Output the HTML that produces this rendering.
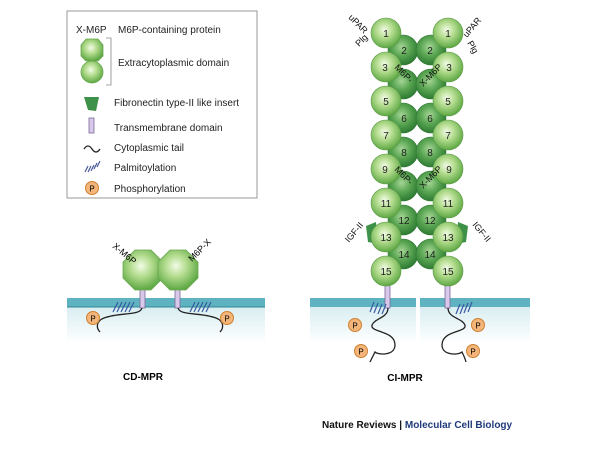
<!DOCTYPE html>
<html><head><style>body{margin:0;background:#fff}svg{display:block}text{font-family:"Liberation Sans",sans-serif}</style></head>
<body>
<svg width="600" height="449" viewBox="0 0 600 449" xmlns="http://www.w3.org/2000/svg">
<defs>
<radialGradient id="g1" cx="45%" cy="40%" r="60%"><stop offset="0" stop-color="#f2fbe6"/><stop offset="0.45" stop-color="#b3dc8e"/><stop offset="1" stop-color="#5ea844"/></radialGradient>
<radialGradient id="g2" cx="45%" cy="40%" r="60%"><stop offset="0" stop-color="#a6d596"/><stop offset="0.5" stop-color="#5aa653"/><stop offset="1" stop-color="#2d7a33"/></radialGradient>
<linearGradient id="mem" x1="0" y1="0" x2="0" y2="1"><stop offset="0" stop-color="#cfe9ee"/><stop offset="1" stop-color="#ffffff"/></linearGradient>
</defs>
<!-- legend -->
<rect x="67" y="11" width="190" height="187" fill="#fff" stroke="#999" stroke-width="1"/>
<g font-size="10" fill="#222">
<text x="76" y="33">X-M6P</text><text x="118" y="33">M6P-containing protein</text>
<text x="118" y="66">Extracytoplasmic domain</text>
<text x="114" y="106">Fibronectin type-II like insert</text>
<text x="114" y="131">Transmembrane domain</text>
<text x="114" y="151">Cytoplasmic tail</text>
<text x="114" y="171">Palmitoylation</text>
<text x="114" y="192">Phosphorylation</text>
</g>
<polygon points="86,39 98,39 103,45 103,56 98,61 86,61 81,56 81,45" fill="url(#g1)" stroke="#6aa84f" stroke-width="0.8"/>
<circle cx="92" cy="72" r="11" fill="url(#g1)" stroke="#6aa84f" stroke-width="0.8"/>
<path d="M106 38 H111 V85 H106" fill="none" stroke="#888" stroke-width="0.8"/>
<polygon points="84,97 99,97 96,111 88,110" fill="#3e9148"/>
<rect x="89" y="118" width="5" height="15" fill="#d8c8ea" stroke="#7a6a9a" stroke-width="0.8"/>
<path d="M84 149 q4 -6 8 0 t8 0" fill="none" stroke="#222" stroke-width="1.3"/>
<path d="M85 172 l3 -6 M88 172 l3 -6 M91 171 l3 -6 M94 169 l3 -6 M97 167 l3 -6" stroke="#4a5a9a" stroke-width="1.2"/>
<circle cx="92" cy="188" r="6.5" fill="#f3b57a" stroke="#d08030"/><text x="92" y="191.5" font-size="8" text-anchor="middle">P</text>

<!-- CD-MPR -->
<rect x="67" y="298" width="198" height="45" fill="url(#mem)"/>
<rect x="67" y="298" width="198" height="9" fill="#5fb3c0"/>
<line x1="67" y1="307" x2="265" y2="307" stroke="#2f8896" stroke-width="1"/>
<rect x="140" y="284" width="5" height="24" fill="#d8c8ea" stroke="#7a6a9a" stroke-width="0.8"/>
<rect x="175" y="284" width="5" height="24" fill="#d8c8ea" stroke="#7a6a9a" stroke-width="0.8"/>
<polygon points="135,250 151,250 163,262 163,278 151,290 135,290 123,278 123,262" fill="url(#g1)" stroke="#6aa84f" stroke-width="0.8"/>
<polygon points="170,250 186,250 198,262 198,278 186,290 170,290 158,278 158,262" fill="url(#g1)" stroke="#6aa84f" stroke-width="0.8"/>
<path d="M142 308 C140 316 120 312 104 318 C96 321 96 328 100 332" fill="none" stroke="#222" stroke-width="1.3"/>
<path d="M178 308 C180 316 200 312 216 318 C224 321 224 328 220 332" fill="none" stroke="#222" stroke-width="1.3"/>
<g stroke="#3a5aa0" stroke-width="1.2"><path d="M113 312 l5 -10 M117 312 l5 -10 M121 312 l5 -10 M125 312 l5 -10 M129 312 l5 -10"/><path d="M190 312 l5 -10 M194 312 l5 -10 M198 312 l5 -10 M202 312 l5 -10 M206 312 l5 -10"/></g>
<circle cx="93" cy="318" r="6.5" fill="#f3b57a" stroke="#d08030"/><text x="93" y="321.5" font-size="8" text-anchor="middle">P</text>
<circle cx="227" cy="318" r="6.5" fill="#f3b57a" stroke="#d08030"/><text x="227" y="321.5" font-size="8" text-anchor="middle">P</text>
<text x="112" y="247" font-size="9" transform="rotate(40 112 247)">X-M6P</text>
<text x="192" y="262" font-size="9" transform="rotate(-45 192 262)">M6P-X</text>
<text x="143" y="380" font-size="10" font-weight="bold" text-anchor="middle">CD-MPR</text>

<!-- CI-MPR membranes -->
<rect x="310" y="298" width="106" height="45" fill="url(#mem)"/><rect x="420" y="298" width="110" height="45" fill="url(#mem)"/>
<rect x="310" y="298" width="106" height="9" fill="#5fb3c0"/><rect x="420" y="298" width="110" height="9" fill="#5fb3c0"/>
<rect x="385" y="282" width="5" height="26" fill="#d8c8ea" stroke="#7a6a9a" stroke-width="0.8"/>
<rect x="445" y="282" width="5" height="26" fill="#d8c8ea" stroke="#7a6a9a" stroke-width="0.8"/>
<g stroke="#3a5aa0" stroke-width="1.2"><path d="M370 312 l4 -10 M374 313 l4 -10 M378 314 l4 -10 M382 314 l4 -10"/><path d="M456 314 l4 -10 M460 314 l4 -10 M464 313 l4 -10 M468 312 l4 -10"/></g>
<path d="M388 308 C388 318 375 318 372 325 C370 333 395 330 395 345 C395 356 378 355 375 352 C372 358 370 362 370 362" fill="none" stroke="#222" stroke-width="1.3"/>
<path d="M448 308 C448 318 462 318 465 325 C467 333 442 330 442 345 C442 356 459 355 462 352 C465 358 466 362 466 362" fill="none" stroke="#222" stroke-width="1.3"/>
<circle cx="355" cy="325" r="6.5" fill="#f3b57a" stroke="#d08030"/><text x="355" y="328.5" font-size="8" text-anchor="middle">P</text>
<circle cx="361" cy="351" r="6.5" fill="#f3b57a" stroke="#d08030"/><text x="361" y="354.5" font-size="8" text-anchor="middle">P</text>
<circle cx="478" cy="325" r="6.5" fill="#f3b57a" stroke="#d08030"/><text x="478" y="328.5" font-size="8" text-anchor="middle">P</text>
<circle cx="473" cy="351" r="6.5" fill="#f3b57a" stroke="#d08030"/><text x="473" y="354.5" font-size="8" text-anchor="middle">P</text>
<text x="405" y="381" font-size="10" font-weight="bold" text-anchor="middle">CI-MPR</text>

<!-- IGF-II inserts -->
<polygon points="366,226 376,222 378,244 368,242" fill="#3e9148"/>
<polygon points="458,222 468,226 466,242 456,244" fill="#3e9148"/>

<!-- inner (even) spheres -->
<g fill="url(#g2)" stroke="#2f7a33" stroke-width="0.6">
<circle cx="403" cy="50" r="15"/><circle cx="431" cy="50" r="15"/>
<circle cx="403" cy="84" r="15"/><circle cx="431" cy="84" r="15"/>
<circle cx="403" cy="118" r="15"/><circle cx="431" cy="118" r="15"/>
<circle cx="403" cy="152" r="15"/><circle cx="431" cy="152" r="15"/>
<circle cx="403" cy="186" r="15"/><circle cx="431" cy="186" r="15"/>
<circle cx="403" cy="220" r="15"/><circle cx="431" cy="220" r="15"/>
<circle cx="403" cy="254" r="15"/><circle cx="431" cy="254" r="15"/>
</g>
<g fill="url(#g1)" stroke="#5a9a44" stroke-width="0.6">
<circle cx="386" cy="33" r="15"/><circle cx="448" cy="33" r="15"/>
<circle cx="386" cy="67" r="15"/><circle cx="448" cy="67" r="15"/>
<circle cx="386" cy="101" r="15"/><circle cx="448" cy="101" r="15"/>
<circle cx="386" cy="135" r="15"/><circle cx="448" cy="135" r="15"/>
<circle cx="386" cy="169" r="15"/><circle cx="448" cy="169" r="15"/>
<circle cx="386" cy="203" r="15"/><circle cx="448" cy="203" r="15"/>
<circle cx="386" cy="237" r="15"/><circle cx="448" cy="237" r="15"/>
<circle cx="386" cy="271" r="15"/><circle cx="448" cy="271" r="15"/>
</g>
<g font-size="10" fill="#222" text-anchor="middle">
<text x="386" y="37">1</text><text x="448" y="37">1</text>
<text x="404" y="54">2</text><text x="430" y="54">2</text>
<text x="385" y="71">3</text><text x="449" y="71">3</text>
<text x="386" y="105">5</text><text x="448" y="105">5</text>
<text x="404" y="122">6</text><text x="430" y="122">6</text>
<text x="386" y="139">7</text><text x="448" y="139">7</text>
<text x="404" y="156">8</text><text x="430" y="156">8</text>
<text x="385" y="173">9</text><text x="449" y="173">9</text>
<text x="386" y="207">11</text><text x="448" y="207">11</text>
<text x="404" y="224">12</text><text x="430" y="224">12</text>
<text x="386" y="241">13</text><text x="448" y="241">13</text>
<text x="404" y="258">14</text><text x="430" y="258">14</text>
<text x="386" y="275">15</text><text x="448" y="275">15</text>
</g>
<g font-size="9" fill="#111">
<text x="394" y="68" transform="rotate(45 394 68)">M6P-</text>
<text x="423" y="87" transform="rotate(-45 423 87)">X-M6P</text>
<text x="394" y="170" transform="rotate(45 394 170)">M6P-</text>
<text x="423" y="189" transform="rotate(-45 423 189)">X-M6P</text>
<text x="348" y="18" transform="rotate(45 348 18)">uPAR</text>
<text x="359" y="47" transform="rotate(-45 359 47)">Plg</text>
<text x="467" y="38" transform="rotate(-50 467 38)">uPAR</text>
<text x="467" y="43" transform="rotate(60 467 43)">Plg</text>
<text x="349" y="243" transform="rotate(-50 349 243)">IGF-II</text>
<text x="472" y="225" transform="rotate(50 472 225)">IGF-II</text>
</g>
<text x="322" y="428" font-size="10" font-weight="bold" fill="#111">Nature Reviews <tspan fill="#111">|</tspan> <tspan fill="#1f3a7a">Molecular Cell Biology</tspan></text>
</svg>
</body></html>
